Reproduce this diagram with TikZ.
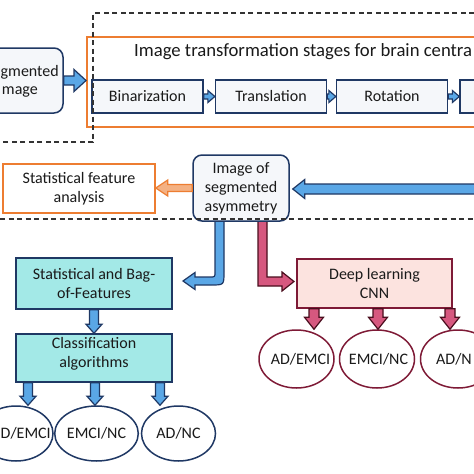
\documentclass[tikz,border=0pt]{standalone}
\usepackage{fontspec}
\setmainfont{Carlito}
\usetikzlibrary{calc,shapes.geometric}
\definecolor{navy}{HTML}{1F3864}
\definecolor{lblue}{HTML}{5AA7E6}
\definecolor{orng}{HTML}{ED7D31}
\definecolor{lorng}{HTML}{F4B183}
\definecolor{cyanf}{HTML}{A3E9E7}
\definecolor{pinkf}{HTML}{FCE3DF}
\definecolor{wine}{HTML}{7E1A36}
\definecolor{rose}{HTML}{D6587F}
\definecolor{dkrose}{HTML}{4A0E1E}
\definecolor{boxf}{HTML}{F5F7FA}
\definecolor{txt}{HTML}{1A1A1A}
\begin{document}
\begin{tikzpicture}[x=1pt,y=-1pt,font=\fontsize{16}{19}\selectfont,text=txt,
  fat/.style args={#1/#2/#3}{to path={
    ($(\tikztostart)!#1!90:(\tikztotarget)$)
    -- ($(\tikztotarget)!#3!(\tikztostart)!#1!-90:(\tikztostart)$)
    -- ($(\tikztotarget)!#3!(\tikztostart)!#2!-90:(\tikztostart)$)
    -- (\tikztotarget)
    -- ($(\tikztotarget)!#3!(\tikztostart)!#2!90:(\tikztostart)$)
    -- ($(\tikztotarget)!#3!(\tikztostart)!#1!90:(\tikztostart)$)
    -- ($(\tikztostart)!#1!-90:(\tikztotarget)$) -- cycle}},
  rbox/.style={draw=navy,line width=1.5pt,rounded corners=9pt,fill=boxf,align=center,inner sep=0pt},
  sbox/.style={draw=navy,line width=1.3pt,fill=boxf,inner sep=0pt},
  obox/.style={draw=orng,line width=1.5pt,fill=white,align=center,inner sep=0pt},
  cbox/.style={draw=navy,line width=1.5pt,fill=cyanf,align=center,inner sep=0pt},
  pbox/.style={draw=wine,line width=1.5pt,fill=pinkf,align=center,inner sep=0pt},
  bell/.style={ellipse,draw=navy,line width=1.5pt,fill=white,minimum width=74pt,minimum height=55pt,inner sep=0pt},
  pell/.style={ellipse,draw=wine,line width=1.5pt,fill=white,minimum width=75pt,minimum height=58pt,inner sep=0pt},
  barrow/.style={draw=navy,line width=1.2pt,fill=lblue,line join=miter},
  oarrow/.style={draw=orng,line width=1.2pt,fill=lorng},
  parrow/.style={draw=dkrose,line width=1.2pt,fill=rose},
  dashline/.style={draw=black!80,line width=1.4pt,dash pattern=on 5pt off 3.5pt},
  lbl/.style={align=center,inner sep=0pt}]
\useasboundingbox (0,0) rectangle (474,474);
\fill[white] (0,0) rectangle (474,474);
\clip (0,0) rectangle (474,474);

% top row
\node[rbox,minimum width=90pt,minimum height=65pt] (seg) at (18,80.5) {};
\node[anchor=west,inner sep=0pt] (segt1) at (0.5,72) {gmented};
\node[anchor=east,inner sep=0pt] (segt2) at (38,92) {mage};
\node[obox,anchor=north west,minimum width=520pt,minimum height=90pt] (org) at (86,36) {};
\node[anchor=west,inner sep=0pt,font=\fontsize{18.7}{22}\selectfont] (ttl) at (134,52) {Image transformation stages for brain centra};
\node[sbox,minimum width=111pt,minimum height=33pt] (bin) at (147.5,96.5) {Binarization};
\node[sbox,minimum width=111pt,minimum height=33pt] (tra) at (271,96.5) {Translation};
\node[sbox,minimum width=111pt,minimum height=33pt] (rot) at (392,96.5) {Rotation};
\node[sbox,minimum width=111pt,minimum height=33pt] (st4) at (515.5,96.5) {};
\path[barrow] (seg.east) to[fat=4.5pt/11pt/12pt] (seg.east -| org.west);
\path[barrow] (bin.east) to[fat=2.5pt/6pt/7pt] (tra.west);
\path[barrow] (tra.east) to[fat=2.5pt/6pt/7pt] (rot.west);
\path[barrow] (rot.east) to[fat=2.5pt/6pt/7pt] (st4.west);

% middle row
\path[barrow] (215,215) -- (215,272) .. controls (215,277) .. (210,277) -- (195,277)
  -- (195,272.5) -- (183,281) -- (195,289.5) -- (195,285) -- (211,285)
  .. controls (224,285) .. (224,272) -- (224,215) -- cycle;
\path[parrow] (258,215) -- (258,286) -- (282,286) -- (282,291) -- (294,281.5)
  -- (282,272) -- (282,277) -- (267,277) -- (267,215) -- cycle;
\node[obox,minimum width=152pt,minimum height=49pt] (sfa) at (79,188.5) {Statistical feature\\analysis};
\node[rbox,minimum width=96pt,minimum height=66pt] (asym) at (241,188) {Image of\\segmented\\asymmetry};
\path[oarrow] (asym.west) to[fat=3.5pt/8pt/12pt] (asym.west -| sfa.east);
\coordinate (rin) at (490,189);
\path[barrow] (rin) to[fat=5pt/9.5pt/12pt] ($(rin -| asym.east)+(3,0)$);

% left branch
\node[cbox,minimum width=156pt,minimum height=51pt] (sbf) at (94,283.5) {Statistical and Bag-\\of-Features};
\node[cbox,minimum width=156pt,minimum height=48pt] (cls) at (94,358) {};
\node[lbl] (clst) at (94,354) {Classification\\algorithms};
\path[barrow] (sbf.south) to[fat=4.5pt/8pt/9pt] (cls.north);
\node[bell] (e1) at (16,433.5) {};
\node[anchor=west,inner sep=0pt] (e1t) at (0.5,433.5) {D/EMCI};
\node[bell] (e2) at (96.5,433.5) {EMCI/NC};
\node[bell] (e3) at (178.5,433.5) {AD/NC};
\path[barrow] (cls.south -| 28,0) to[fat=4.5pt/8pt/9pt] (e1.north -| 28,0);
\path[barrow] (cls.south -| 95,0) to[fat=4.5pt/8pt/9pt] (e2.north -| 95,0);
\path[barrow] (cls.south -| 160,0) to[fat=4.5pt/8pt/9pt] (e3.north -| 160,0);

% right branch
\node[pbox,minimum width=155pt,minimum height=49pt] (cnn) at (374.5,283.5) {Deep learning\\CNN};
\node[pell] (p1) at (296.5,359) {};
\node[lbl] (p1t) at (300.5,359) {AD/EMCI};
\node[pell] (p2) at (377,359) {};
\node[lbl] (p2t) at (378.5,359) {EMCI/NC};
\node[pell] (p3) at (458,359) {};
\node[anchor=west,inner sep=0pt] (p3t) at (436,359) {AD/N};
\path[parrow] (cnn.south -| 314,0) to[fat=5pt/9.5pt/12pt] (p1.north -| 314,0);
\path[parrow] (cnn.south -| 378,0) to[fat=5pt/9.5pt/12pt] (p2.north -| 378,0);
\path[parrow] (cnn.south -| 450,0) to[fat=5pt/9.5pt/12pt] (p3.north -| 450,0);

% dashed regions
\draw[dashline] (474,13) -- (93,13) -- (93,142) -- (0,142);
\draw[dashline] (0,219) -- (474,219);
\end{tikzpicture}
\end{document}
